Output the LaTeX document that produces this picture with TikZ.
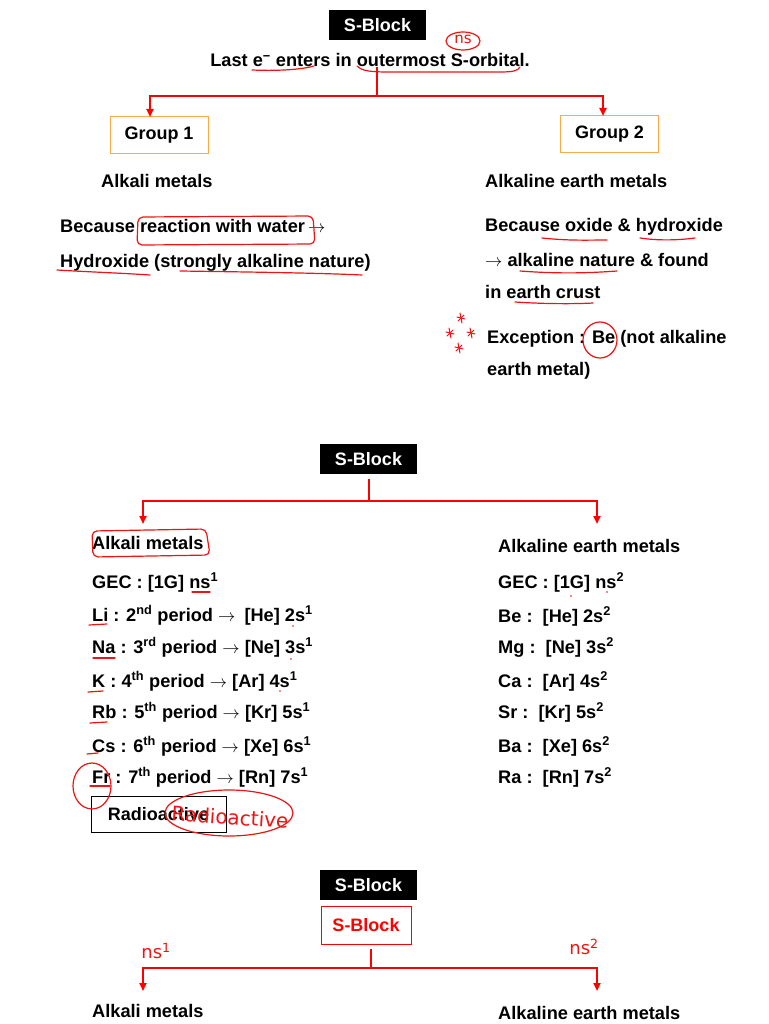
\documentclass[tikz,border=0pt]{standalone}
\usepackage{fontspec}
\setmainfont{Liberation Sans}
\newfontfamily\handfont{DejaVu Sans}
\usetikzlibrary{arrows.meta}
\definecolor{penred}{RGB}{238,20,20}
\definecolor{lnred}{RGB}{255,0,0}
\definecolor{boxorange}{RGB}{250,170,70}
\begin{document}
\begin{tikzpicture}[x=1pt,y=-1pt,
  txt/.style={font=\fontsize{18.2}{22}\selectfont\bfseries, inner sep=0pt, anchor=base west},
  blk/.style={fill=black, text=white, font=\fontsize{18}{22}\selectfont\bfseries, minimum width=97pt, minimum height=30pt, inner sep=0pt},
  grp/.style={draw=boxorange, line width=1pt, font=\fontsize{18}{22}\selectfont\bfseries, minimum width=98pt, minimum height=37pt, inner sep=0pt},
  conn/.style={draw=lnred, line width=2pt},
  arr/.style={conn, -{Triangle[length=8pt,width=7pt]}},
  hand/.style={draw=penred, line width=1.2pt, line cap=round, line join=round},
  handtxt/.style={text=penred, font=\handfont\fontsize{14}{16}\selectfont, inner sep=0pt},
  dotmark/.style={fill=penred}
]
\useasboundingbox (0,0) rectangle (768,1024);
\fill[white] (0,0) rectangle (768,1024);

% ---------- section 1 ----------
\node[blk] (title1) at (377.5,25) {S-Block};
\node[txt, anchor=base] (lastE) at (370,67) {Last e\textsuperscript{−} enters in outermost S-orbital.};
\node[grp] (g1) at (159,135.5) {Group 1};
\node[grp] (g2) at (609.5,134.5) {Group 2};
\coordinate (j1) at (377,96);
\coordinate (g1top) at (150,117);
\coordinate (g2top) at (603,116);
\draw[conn] (lastE.south -| j1) -- (j1);
\draw[arr] (j1) -| (g1top);
\draw[arr] (j1) -| (g2top);

\node[txt] (am1) at (101,188) {Alkali metals};
\node[txt] (ae1) at (485,188) {Alkaline earth metals};
\node[txt] (b1) at (60,233) {Because reaction with water\,$\rightarrow$};
\node[txt] (b2) at (60,267) {Hydroxide (strongly alkaline nature)};
\node[txt] (c1) at (485,232) {Because oxide \& hydroxide};
\node[txt] (c2) at (485,266) {$\rightarrow$ alkaline nature \& found};
\node[txt] (c3) at (485,298) {in earth crust};
\node[txt] (c4) at (487,343) {Exception : Be (not alkaline};
\node[txt] (c5) at (487,375) {earth metal)};

% hand marks section 1
\draw[hand] (252,70) .. controls (275,71) and (300,70) .. (314,66);
\draw[hand] (357,66) .. controls (362,71) and (370,72) .. (390,72) -- (500,72) .. controls (512,72) and (518,71) .. (520,67);
\node[handtxt, font=\handfont\fontsize{15}{17}\selectfont] (ns1) at (463,39) {ns};
\draw[hand] (463,41) ellipse [x radius=17, y radius=9];
\draw[hand, rounded corners=5pt] (138,217) -- (313,216) -- (315,244) -- (137,245) -- cycle;
\draw[hand] (57,270) .. controls (90,272) and (120,273) .. (150,275);
\draw[hand] (180,271) .. controls (250,272) and (320,273) .. (362,275);
\draw[hand] (542,238) .. controls (570,241) and (590,240) .. (607,240);
\draw[hand] (640,238) .. controls (660,241) and (680,240) .. (695,238);
\draw[hand] (520,271) .. controls (560,274) and (590,273) .. (617,271);
\draw[hand] (515,302) .. controls (545,304) and (575,304) .. (593,303);
\draw[hand] (600,340) ellipse [x radius=17, y radius=18];
\foreach \sx/\sy in {461/318, 450/333, 471/333, 459/348}{
  \draw[hand, line width=1pt] (\sx-4,\sy-1) -- (\sx+4,\sy+1);
  \draw[hand, line width=1pt] (\sx-1,\sy-5) -- (\sx+1,\sy+5);
  \draw[hand, line width=1pt] (\sx-3,\sy+3) -- (\sx+3,\sy-3);
}

% ---------- section 2 ----------
\node[blk] (title2) at (368.5,459) {S-Block};
\coordinate (j2) at (369,501);
\coordinate (am2top) at (143,524);
\coordinate (ae2top) at (597,524);
\draw[conn, shorten <=5pt] (title2.south -| j2) -- (j2);
\draw[arr] (j2) -| (am2top);
\draw[arr] (j2) -| (ae2top);

\node[txt] (am2) at (92,549) {Alkali metals};
\node[txt] (l1) at (92,588) {GEC : [1G] ns\textsuperscript{1}};
\node[txt] (l2) at (92,621) {Li : 2\textsuperscript{nd} period $\rightarrow$\enspace [He] 2s\textsuperscript{1}};
\node[txt] (l3) at (92,653) {Na : 3\textsuperscript{rd} period $\rightarrow$ [Ne] 3s\textsuperscript{1}};
\node[txt] (l4) at (92,687) {K : 4\textsuperscript{th} period $\rightarrow$ [Ar] 4s\textsuperscript{1}};
\node[txt] (l5) at (92,718) {Rb : 5\textsuperscript{th} period $\rightarrow$ [Kr] 5s\textsuperscript{1}};
\node[txt] (l6) at (92,752) {Cs : 6\textsuperscript{th} period $\rightarrow$ [Xe] 6s\textsuperscript{1}};
\node[txt] (l7) at (92,783) {Fr : 7\textsuperscript{th} period $\rightarrow$ [Rn] 7s\textsuperscript{1}};
\node[draw=black, line width=1pt, minimum width=135pt, minimum height=36pt, font=\fontsize{18}{22}\selectfont\bfseries, inner sep=0pt] (radio) at (158.5,814) {Radioactive};

\node[txt] (ae2) at (498,552) {Alkaline earth metals};
\node[txt] (r1) at (498,588) {GEC : [1G] ns\textsuperscript{2}};
\node[txt] (r2) at (498,622) {Be :\ \ [He] 2s\textsuperscript{2}};
\node[txt] (r3) at (498,653) {Mg :\ \ [Ne] 3s\textsuperscript{2}};
\node[txt] (r4) at (498,687) {Ca :\ \ [Ar] 4s\textsuperscript{2}};
\node[txt] (r5) at (498,718) {Sr :\ \ [Kr] 5s\textsuperscript{2}};
\node[txt] (r6) at (498,752) {Ba :\ \ [Xe] 6s\textsuperscript{2}};
\node[txt] (r7) at (498,783) {Ra :\ \ [Rn] 7s\textsuperscript{2}};

% hand marks section 2
\draw[hand, rounded corners=5pt] (92,531) -- (206,529) -- (210,555) -- (93,557) -- cycle;
\draw[hand] (192,592) -- (210,592);
\draw[hand] (89,625) -- (107,624);
\draw[hand] (93,658) -- (115,658);
\draw[hand] (88,692) -- (103,691);
\draw[hand] (90,723) -- (107,722);
\draw[hand] (87,754) -- (98,753);
\draw[hand] (90,786) -- (110,786);
\draw[hand] (92,786) ellipse [x radius=19, y radius=23];
\node[handtxt, font=\handfont\fontsize{20}{23}\selectfont, rotate=-4] (radhand) at (230,817) {Radioactive};
\draw[hand] (229,813) ellipse [x radius=64, y radius=23];
\foreach \dx/\dy in {293/626, 291/659, 280/691, 571/596, 607/592}{
  \fill[dotmark] (\dx,\dy) circle (0.9);
}

% ---------- section 3 ----------
\node[blk] (title3) at (368.5,885) {S-Block};
\node[draw=lnred, line width=1pt, text=lnred, minimum width=90pt, minimum height=38pt, font=\fontsize{18}{22}\selectfont\bfseries, inner sep=0pt] (sred) at (366,925) {S-Block};
\coordinate (j3) at (371,968);
\coordinate (am3top) at (143,991);
\coordinate (ae3top) at (597,991);
\draw[conn, shorten <=4pt] (sred.south -| j3) -- (j3);
\draw[arr] (j3) -| (am3top);
\draw[arr] (j3) -| (ae3top);
\node[handtxt, font=\handfont\fontsize{18}{20}\selectfont] (ns1b) at (156,951) {ns\textsuperscript{1}};
\node[handtxt, font=\handfont\fontsize{18}{20}\selectfont] (ns2b) at (584,947) {ns\textsuperscript{2}};
\node[txt] (am3) at (92,1017) {Alkali metals};
\node[txt] (ae3) at (498,1019) {Alkaline earth metals};
\end{tikzpicture}
\end{document}
